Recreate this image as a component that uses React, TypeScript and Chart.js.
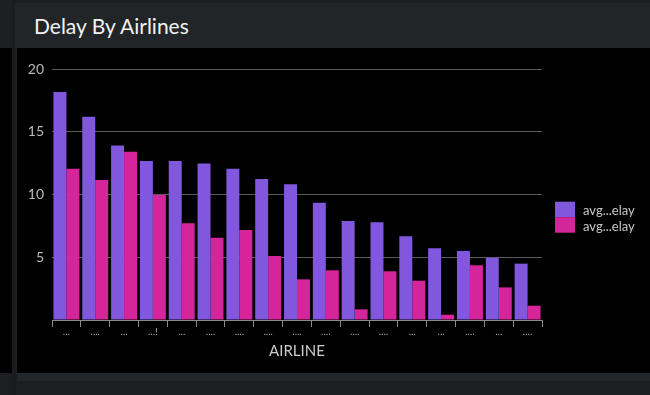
import React, { useEffect, useRef } from 'react';
import { Chart, registerables } from 'chart.js';

Chart.register(...registerables);

const FONT = 'Lato, "Open Sans", sans-serif';

const airlines = ['...', '....', '...', '...!', '...', '....', '....', '....', '....', '....', '....', '....', '...', '...', '....', '...', '....'];
const avgDepDelay = [18.17, 16.2, 13.9, 12.67, 12.67, 12.48, 12.06, 11.24, 10.81, 9.35, 7.89, 7.78, 6.67, 5.71, 5.5, 4.96, 4.49];
const avgArrDelay = [12.06, 11.16, 13.4, 9.96, 7.7, 6.56, 7.17, 5.1, 3.24, 3.96, 0.85, 3.88, 3.13, 0.42, 4.36, 2.6, 1.14];
const seriesLabels = ['avg...elay', 'avg...elay'];
const seriesColors = ['#8157dd', '#d4269a'];
const yMax = 20;
const yStep = 5;

const sideLegend = {
  id: 'sideLegend',
  afterDraw(chart: any) {
    const { ctx, chartArea } = chart;
    const x = chartArea.right + 13;
    const boxH = 15.5;
    const top = 153.7;
    ctx.save();
    ctx.font = `13px ${FONT}`;
    ctx.textBaseline = 'middle';
    ctx.textAlign = 'left';
    chart.data.datasets.forEach((ds: any, i: number) => {
      const y = top + i * boxH;
      ctx.fillStyle = ds.backgroundColor;
      ctx.fillRect(x, y, 20, boxH);
      ctx.fillStyle = '#c8c8c8';
      ctx.fillText(ds.label, x + 28, y + boxH / 2 + 1.5);
    });
    ctx.restore();
  },
};

export default function App() {
  const ref = useRef<HTMLCanvasElement>(null);

  useEffect(() => {
    if (!ref.current) return;
    const chart = new Chart(ref.current, {
      type: 'bar',
      data: {
        labels: airlines,
        datasets: [
          { label: seriesLabels[0], data: avgDepDelay, backgroundColor: seriesColors[0], borderWidth: 0 },
          { label: seriesLabels[1], data: avgArrDelay, backgroundColor: seriesColors[1], borderWidth: 0 },
        ],
      },
      options: {
        responsive: false,
        animation: false,
        layout: { padding: { top: 21, right: 108, bottom: 0, left: 0 } },
        datasets: { bar: { categoryPercentage: 0.9, barPercentage: 1 } },
        plugins: {
          legend: { display: false },
          tooltip: { enabled: false },
        },
        scales: {
          x: {
            grid: { drawOnChartArea: false, drawTicks: true, tickLength: 7, color: '#8a8a8a' },
            border: { display: true, color: '#8a8a8a' },
            ticks: {
              color: '#b0b0b0',
              font: { family: FONT, size: 10 },
              padding: -1,
              autoSkip: false,
              maxRotation: 0,
            },
            title: {
              display: true,
              text: 'AIRLINE',
              color: '#cccccc',
              font: { family: FONT, size: 15 },
              padding: { top: 4, bottom: 13 },
            },
            afterFit(scale: any) {
              scale.height = 53;
            },
          },
          y: {
            min: 0,
            max: yMax,
            grid: {
              drawTicks: false,
              color: (ctx: any) => (ctx.tick && ctx.tick.value === 0 ? 'rgba(0,0,0,0)' : '#5a5a5a'),
            },
            border: { display: false },
            ticks: {
              stepSize: yStep,
              color: '#b8b8b8',
              font: { family: FONT, size: 14 },
              padding: 8,
              callback: (v: any) => (v === 0 ? '' : String(v)),
            },
            afterFit(scale: any) {
              scale.width = 35;
            },
          },
        },
      },
      plugins: [sideLegend],
    } as any);
    return () => chart.destroy();
  }, []);

  return (
    <div style={{ position: 'fixed', left: 0, top: 0, width: 650, height: 395, background: '#1c1e21', overflow: 'hidden' }}>
      <div style={{ position: 'absolute', left: 0, top: 0, width: 12, height: 48, background: '#1d1f22' }} />
      <div style={{ position: 'absolute', left: 0, top: 48, width: 12, height: 325, background: '#000' }} />
      <div style={{ position: 'absolute', left: 12, top: 0, width: 4, height: 395, background: '#191b1e' }} />
      <div
        style={{
          position: 'absolute',
          left: 15,
          top: 3,
          width: 635,
          height: 45,
          background: '#222528',
          color: '#f2f2f2',
          fontFamily: FONT,
          fontSize: 21,
          lineHeight: '45px',
          boxSizing: 'border-box',
          paddingLeft: 19,
        }}
      >
        Delay By Airlines
      </div>
      <canvas
        ref={ref}
        width={633}
        height={325}
        style={{ position: 'absolute', left: 17, top: 48, width: 633, height: 325, background: '#000' }}
      />
      <div style={{ position: 'absolute', left: 17, top: 373, width: 633, height: 8, background: '#24272a' }} />
    </div>
  );
}
